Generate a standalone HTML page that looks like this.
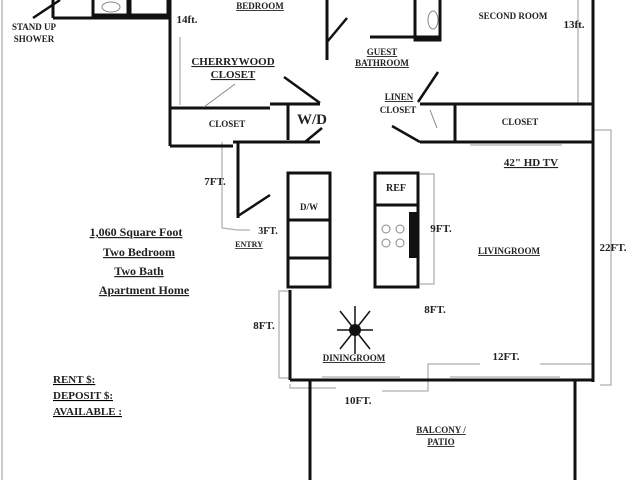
<!DOCTYPE html>
<html><head><style>
html,body{margin:0;padding:0;background:#fff;width:640px;height:480px;overflow:hidden}
svg text{font-family:"Liberation Serif",serif;font-weight:bold;fill:#222}
</style></head><body>
<svg width="640" height="480" viewBox="0 0 640 480" xmlns="http://www.w3.org/2000/svg">
<g stroke="#bbb" stroke-width="1.5" fill="none">
<line x1="2" y1="0" x2="2" y2="480"/>
<line x1="180" y1="37" x2="180" y2="105"/>
<line x1="578" y1="0" x2="578" y2="103"/>
<polyline points="594,130 611,130 611,385 600,385"/>
<line x1="470" y1="145" x2="562" y2="145"/>
<polyline points="222,142 222,228 238,230 250,230"/>
<polyline points="420,174 434,174 434,284 420,284"/>
<polyline points="290,291 279,291 279,378 290,378"/>
<polyline points="290,384 290,388 336,388"/>
<polyline points="382,391 428,391 428,364 480,364"/>
<line x1="540" y1="364" x2="592" y2="364"/>
<line x1="322" y1="377" x2="400" y2="377"/>
<line x1="450" y1="377" x2="560" y2="377"/>
</g>
<g stroke="#111" stroke-width="3" fill="none">
<line x1="53" y1="18" x2="170" y2="18"/>
<rect x="93" y="-2" width="35" height="17"/>
<rect x="130" y="-2" width="38" height="17"/>
<line x1="53" y1="0" x2="53" y2="18"/>
<line x1="170" y1="0" x2="170" y2="146"/>
<line x1="170" y1="108" x2="270" y2="108"/>
<line x1="270" y1="104" x2="320" y2="104"/>
<line x1="170" y1="146" x2="233" y2="146"/>
<line x1="288" y1="104" x2="288" y2="140"/>
<line x1="233" y1="142" x2="320" y2="142"/>
<line x1="238" y1="142" x2="238" y2="218"/>
<line x1="327" y1="0" x2="327" y2="60"/>
<rect x="415" y="-2" width="25" height="42"/>
<line x1="370" y1="37" x2="440" y2="37"/>
<line x1="420" y1="104" x2="593" y2="104"/>
<line x1="420" y1="142" x2="593" y2="142"/>
<line x1="455" y1="104" x2="455" y2="142"/>
<line x1="593" y1="0" x2="593" y2="382"/>
<rect x="288" y="173" width="42" height="114"/>
<line x1="288" y1="220" x2="330" y2="220"/>
<line x1="288" y1="258" x2="330" y2="258"/>
<rect x="375" y="173" width="43" height="114"/>
<line x1="375" y1="205" x2="418" y2="205"/>
<line x1="290" y1="290" x2="290" y2="380"/>
<line x1="290" y1="380" x2="593" y2="380"/>
<line x1="310" y1="380" x2="310" y2="480"/>
<line x1="575" y1="380" x2="575" y2="480"/>
</g>
<g stroke="#111" stroke-width="2.5">
<line x1="33" y1="18" x2="60" y2="0"/>
<line x1="284" y1="77" x2="320" y2="103"/>
<line x1="238" y1="216" x2="270" y2="195"/>
<line x1="327" y1="42" x2="347" y2="18"/>
<line x1="418" y1="102" x2="438" y2="72"/>
<line x1="392" y1="126" x2="420" y2="142"/>
<line x1="305" y1="142" x2="322" y2="128"/>
</g>
<rect x="409" y="212" width="9" height="46" fill="#111"/>
<g stroke="#888" stroke-width="1" fill="none">
<circle cx="386" cy="229" r="4"/><circle cx="400" cy="229" r="4"/>
<circle cx="386" cy="243" r="4"/><circle cx="400" cy="243" r="4"/>
<ellipse cx="433" cy="20" rx="5" ry="9"/>
<ellipse cx="111" cy="7" rx="9" ry="5"/>
<line x1="204" y1="107" x2="235" y2="84"/>
<line x1="430" y1="110" x2="437" y2="128"/>
</g>
<g stroke="#111" stroke-width="1.5">
<line x1="337" y1="330" x2="373" y2="330"/>
<line x1="355" y1="306" x2="355" y2="354"/>
<line x1="340" y1="311" x2="370" y2="349"/>
<line x1="370" y1="311" x2="340" y2="349"/>
</g>
<circle cx="355" cy="330" r="6" fill="#111"/>
<g font-size="9" text-anchor="middle">
<text x="34" y="30">STAND UP</text><text x="34" y="42">SHOWER</text>
<text x="260" y="9" text-decoration="underline">BEDROOM</text>
<text x="187" y="23" font-size="11">14ft.</text>
<text x="233" y="65" font-size="11" text-decoration="underline">CHERRYWOOD</text>
<text x="233" y="78" font-size="11" text-decoration="underline">CLOSET</text>
<text x="227" y="127">CLOSET</text>
<text x="312" y="124" font-size="15">W/D</text>
<text x="382" y="55" text-decoration="underline">GUEST</text>
<text x="382" y="66" text-decoration="underline">BATHROOM</text>
<text x="513" y="19">SECOND ROOM</text>
<text x="574" y="28" font-size="11">13ft.</text>
<text x="399" y="100" text-decoration="underline">LINEN</text>
<text x="398" y="113">CLOSET</text>
<text x="520" y="125">CLOSET</text>
<text x="531" y="166" font-size="11" text-decoration="underline">42" HD TV</text>
<text x="215" y="185" font-size="11">7FT.</text>
<text x="309" y="210">D/W</text>
<text x="396" y="191" font-size="10">REF</text>
<text x="441" y="232" font-size="11">9FT.</text>
<text x="268" y="234" font-size="10">3FT.</text>
<text x="249" y="247" font-size="8" text-decoration="underline">ENTRY</text>
<text x="509" y="254" text-decoration="underline">LIVINGROOM</text>
<text x="613" y="251" font-size="11">22FT.</text>
<text x="136" y="236" font-size="12" text-decoration="underline">1,060 Square Foot</text>
<text x="139" y="256" font-size="12" text-decoration="underline">Two Bedroom</text>
<text x="139" y="275" font-size="12" text-decoration="underline">Two Bath</text>
<text x="144" y="294" font-size="12" text-decoration="underline">Apartment Home</text>
<text x="264" y="329" font-size="11">8FT.</text>
<text x="435" y="313" font-size="11">8FT.</text>
<text x="354" y="361" text-decoration="underline">DININGROOM</text>
<text x="506" y="360" font-size="11">12FT.</text>
<text x="358" y="404" font-size="11">10FT.</text>
<text x="441" y="433" text-decoration="underline">BALCONY /</text>
<text x="441" y="445" text-decoration="underline">PATIO</text>
</g>
<g font-size="11" text-decoration="underline">
<text x="53" y="383">RENT $:</text>
<text x="53" y="399">DEPOSIT $:</text>
<text x="53" y="415">AVAILABLE :</text>
</g>
</svg>
</body></html>
